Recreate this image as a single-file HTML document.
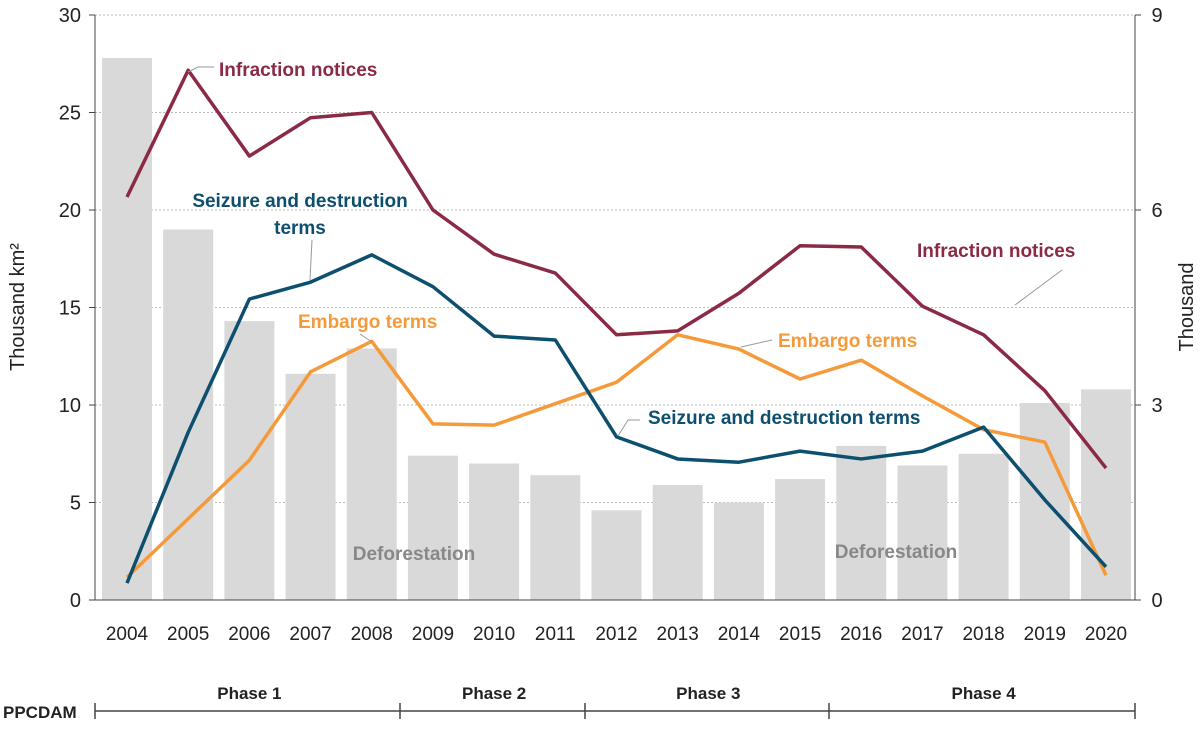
<!DOCTYPE html>
<html><head><meta charset="utf-8"><style>
body{margin:0;background:#fff;}
svg{font-family:"Liberation Sans",sans-serif;}
</style></head><body>
<svg id="c" width="1200" height="728" viewBox="0 0 1200 728"></svg>
<script>
const years=[2004,2005,2006,2007,2008,2009,2010,2011,2012,2013,2014,2015,2016,2017,2018,2019,2020];
const deforestation=[27.8,19.0,14.3,11.6,12.9,7.4,7.0,6.4,4.6,5.9,5.0,6.2,7.9,6.9,7.5,10.1,10.8];
const infraction=[6.2,8.15,6.83,7.42,7.5,6.0,5.32,5.03,4.08,4.14,4.72,5.45,5.43,4.52,4.08,3.22,2.03];
const seizure=[0.26,2.58,4.63,4.89,5.31,4.82,4.06,4.0,2.51,2.17,2.12,2.29,2.17,2.29,2.66,1.54,0.51];
const embargo=[0.35,1.25,2.15,3.51,3.98,2.71,2.69,3.02,3.35,4.08,3.86,3.4,3.69,3.14,2.62,2.43,0.38];
const leftTicks=[0,5,10,15,20,25,30];
const rightTicks=[0,3,6,9];
const phases=[{n:"Phase 1",a:2004,b:2008},{n:"Phase 2",a:2009,b:2011},{n:"Phase 3",a:2012,b:2015},{n:"Phase 4",a:2016,b:2020}];

const svg=document.getElementById('c');
const NS="http://www.w3.org/2000/svg";
const L=95,R=1135,T=15,B=600;
const x=y=>127+(y-2004)*(1106-127)/16;
const yl=v=>B-(v/30)*(B-T);
const yr=v=>B-(v/9)*(B-T);
function mk(tag,attrs,parent){const e=document.createElementNS(NS,tag);for(const k in attrs)e.setAttribute(k,attrs[k]);(parent||svg).appendChild(e);return e;}
function txt(s,attrs){const e=mk('text',attrs);e.textContent=s;return e;}

// grid
leftTicks.forEach(t=>{if(t>0){const g=mk('line',{x1:L,x2:R,y1:yl(t),y2:yl(t),stroke:'#bbb','stroke-dasharray':'2,2'});

}});
// bars
deforestation.forEach((v,i)=>{const r=mk('rect',{x:x(years[i])-25,y:yl(v),width:50,height:B-yl(v),fill:'#d9d9d9'});

});
// axes
mk('line',{x1:L,x2:L,y1:T,y2:B,stroke:'#444'});
mk('line',{x1:R,x2:R,y1:T,y2:B,stroke:'#444'});
mk('line',{x1:L,x2:R,y1:B,y2:B,stroke:'#444'});
leftTicks.forEach(t=>{const e=txt(t,{x:L-14,y:yl(t)+7,'text-anchor':'end','font-size':20,fill:'#222'});


mk('line',{x1:L-6,x2:L,y1:yl(t),y2:yl(t),stroke:'#444'});});
rightTicks.forEach(t=>{const e=txt(t,{x:R+22,y:yr(t)+7,'text-anchor':'middle','font-size':20,fill:'#222'});


mk('line',{x1:R,x2:R+6,y1:yr(t),y2:yr(t),stroke:'#444'});});
years.forEach(yv=>{const e=txt(yv,{x:x(yv),y:640,'text-anchor':'middle','font-size':19,fill:'#222'});

});
const yt=txt("Thousand km²",{x:0,y:0,transform:'translate(24,307) rotate(-90)','text-anchor':'middle','font-size':20,fill:'#222'});


const yt2=txt("Thousand",{x:0,y:0,transform:'translate(1193,307) rotate(-90)','text-anchor':'middle','font-size':20,fill:'#222'});



// lines
function line(arr,col,name){const p=mk('polyline',{points:arr.map((v,i)=>x(years[i])+','+yr(v)).join(' '),fill:'none',stroke:col,'stroke-width':3.5,'stroke-linejoin':'round'});

}
line(embargo,'#f59a3a','line-embargo');
line(seizure,'#0d4f6e','line-seizure');
line(infraction,'#8b2a45','line-infraction');

// labels
function lab(s,xx,yy,col,anchor){const e=txt(s,{x:xx,y:yy,'font-size':19,'font-weight':'bold',fill:col,'text-anchor':anchor||'start'});

}
mk('polyline',{points:'188,72 198,67 214,67',fill:'none',stroke:'#999'});
lab("Infraction notices",219,76,'#8b2a45');
lab("Infraction notices",917,257,'#8b2a45');
mk('line',{x1:1062,x2:1015,y1:270,y2:305,stroke:'#999'});
lab("Seizure and destruction",300,207,'#0d4f6e','middle');
lab("terms",300,234,'#0d4f6e','middle');
mk('line',{x1:312,x2:310,y1:240,y2:280,stroke:'#999'});
lab("Seizure and destruction terms",648,424,'#0d4f6e');
mk('polyline',{points:'618,436 628,420 640,420',fill:'none',stroke:'#999'});
lab("Embargo terms",298,328,'#f59a3a');
mk('line',{x1:360,x2:372,y1:334,y2:342,stroke:'#999'});
lab("Embargo terms",778,347,'#f59a3a');
mk('line',{x1:772,x2:741,y1:340,y2:347,stroke:'#999'});
lab("Deforestation",414,560,'#888','middle');
lab("Deforestation",896,558,'#888','middle');

// phases
const py=711;
mk('line',{x1:L,x2:R,y1:py,y2:py,stroke:'#444','stroke-width':1.5});
const bnds=[L,400,585,829,R];
bnds.forEach(b=>mk('line',{x1:b,x2:b,y1:py-8,y2:py+8,stroke:'#444','stroke-width':1.5}));
phases.forEach(p=>{const cx=(x(p.a)+x(p.b))/2;const e=txt(p.n,{x:cx,y:699,'text-anchor':'middle','font-size':17,'font-weight':'bold',fill:'#222'});

});
const pp=txt("PPCDAM",{x:3,y:718,'font-size':17,'font-weight':'bold',fill:'#222'});


</script>
</body></html>
